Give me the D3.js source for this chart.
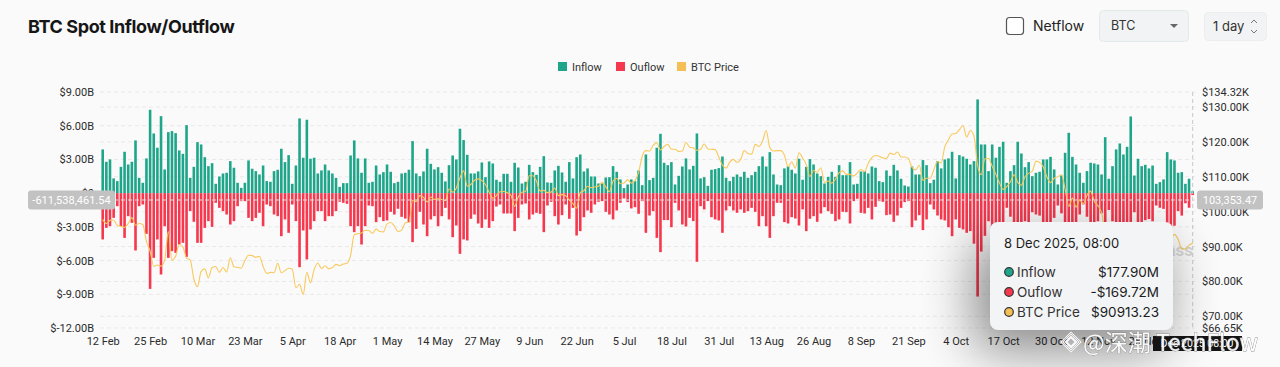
<!DOCTYPE html>
<html lang="en">
<head>
<meta charset="UTF-8">
<title>BTC Spot Inflow/Outflow</title>
<script src="https://d3js.org/d3.v7.min.js"></script>
<style>
  html, body { margin: 0; padding: 0; background: #fafafa; }
  svg { display: block; font-family: Roboto, "Noto Sans", sans-serif; }
</style>
</head>
<body>
<svg id="chart" width="1280" height="367"></svg>
<script>
// one bar per day, 12 Feb 2025 .. 8 Dec 2025
const days = d3.timeDay.range(new Date(2025, 1, 12), new Date(2025, 11, 9));

// spot inflow, $B
const inflow = [
  3.89,2.79,3.00,1.31,1.07,2.34,3.68,2.55,2.79,4.69, 1.36,0.92,3.09,7.42,5.31,4.04,6.85,2.11,5.43,5.52,
  5.34,3.80,3.50,6.05,1.36,2.34,4.54,4.33,3.20,2.40, 2.67,0.83,1.48,1.75,1.81,2.85,2.26,0.92,0.47,0.92,
  2.91,2.17,1.96,1.66,2.46,1.07,1.01,1.96,2.08,3.95, 2.76,3.38,0.83,2.46,6.65,3.15,6.53,3.06,3.15,1.75,
  2.02,2.55,2.02,1.75,1.36,0.56,0.89,0.89,3.35,4.69, 3.09,1.81,3.09,0.92,1.01,2.46,1.66,1.87,2.55,1.90,
  0.89,1.01,1.75,1.81,2.08,4.63,1.75,1.51,1.93,3.95, 2.61,2.11,2.31,1.81,1.04,2.49,3.35,3.00,5.73,4.72,
  3.41,1.75,1.75,1.93,2.73,1.42,2.82,2.64,1.19,1.01, 1.72,1.72,1.01,2.70,2.28,0.86,1.01,2.52,1.87,1.63,
  2.34,3.29,0.95,0.92,2.02,2.43,1.84,1.01,2.76,1.31, 3.20,3.44,1.93,2.20,1.48,1.48,0.86,0.86,1.39,1.42,
  2.40,1.90,1.22,0.45,0.77,1.22,1.07,2.02,0.71,3.44, 1.16,1.36,4.04,5.28,2.70,2.49,2.76,0.77,1.54,2.37,
  3.09,2.11,2.43,5.31,1.31,1.42,0.65,2.08,2.14,2.23, 3.26,1.36,1.07,1.45,1.66,1.45,1.90,1.36,1.60,1.90,
  2.40,3.26,2.37,3.65,1.66,0.77,0.71,2.20,2.40,2.08, 1.75,3.06,1.19,2.34,3.03,2.55,1.75,1.51,0.86,1.45,
  1.90,1.45,2.49,1.60,1.60,2.76,0.77,0.83,1.93,1.96, 1.75,2.37,2.26,1.07,0.98,2.02,1.54,2.52,2.02,1.28,
  0.68,0.59,2.37,1.66,1.66,2.94,2.49,0.89,1.19,2.85, 2.20,3.00,3.09,3.68,1.31,3.38,3.26,3.06,2.55,
  2.85,8.34,4.33,4.33,1.96,4.33,3.15,4.12,4.57,0.92, 1.96,2.49,4.57,3.53,2.31,2.76,1.51,1.81,1.90,3.00,
  3.00,3.23,2.11,0.77,1.57,3.59,5.37,3.23,2.55,1.81, 0.92,1.96,2.70,2.64,2.55,1.66,4.98,1.28,2.40,3.89,
  4.42,3.44,4.12,6.82,1.57,3.06,2.40,2.52,2.20,2.46, 0.83,0.98,1.22,3.65,3.00,2.91,1.81,1.87,0.83,1.28,
  0.1779
];

// spot outflow, $B (drawn below zero)
const outflow = [
  4.12,3.09,2.94,2.20,1.16,2.94,3.98,2.05,2.64,5.10, 1.16,1.01,3.62,8.52,5.76,4.12,7.24,2.94,5.76,5.16,
  5.31,4.57,4.42,5.67,1.60,2.55,4.42,4.42,3.09,2.49, 3.00,0.86,1.31,1.60,1.90,2.79,2.49,1.16,0.71,0.71,
  2.20,2.49,2.20,1.75,2.94,1.01,1.16,1.90,2.05,3.83, 2.34,3.53,1.01,2.49,6.59,3.32,5.90,3.23,2.49,1.60,
  1.60,2.49,2.05,2.05,1.60,0.77,0.86,0.95,2.94,3.47, 2.94,4.57,2.94,1.10,1.16,2.58,2.14,2.49,2.43,1.66,
  1.90,1.39,2.11,2.26,2.58,4.36,3.18,1.66,2.79,3.83, 2.34,2.05,2.94,2.05,1.31,2.34,3.92,2.88,5.40,4.12,
  4.21,2.28,1.90,2.70,3.09,2.34,3.09,2.49,1.19,1.01, 1.81,1.81,1.81,3.38,2.20,1.01,0.92,2.34,1.90,1.75,
  1.84,3.47,1.10,0.77,2.05,2.79,1.96,1.01,2.28,1.31, 3.77,3.38,2.14,1.54,1.75,1.01,0.77,0.71,1.66,1.90,
  2.34,1.54,0.86,0.47,0.80,1.36,1.25,1.84,0.71,3.53, 1.99,1.60,3.98,5.25,2.40,2.40,3.03,0.86,1.54,2.79,
  2.97,2.20,2.49,6.11,1.16,1.45,0.71,2.14,2.34,2.43, 3.53,1.54,1.16,1.54,1.75,1.45,1.75,1.60,1.31,1.66,
  2.94,2.05,2.94,3.98,2.05,0.86,0.86,2.58,2.70,2.14, 2.26,2.88,1.45,3.38,2.28,2.05,2.55,1.81,1.25,1.60,
  1.84,2.49,2.34,1.66,1.69,2.70,0.71,0.50,1.75,1.81, 1.31,2.34,1.22,0.71,0.77,1.96,1.90,2.55,1.99,1.31,
  0.80,0.71,3.03,2.43,1.96,3.29,2.34,1.01,1.45,1.99, 2.34,2.43,3.03,3.83,2.34,3.09,3.23,3.53,3.38,
  4.50,9.20,5.20,3.80,2.50,4.10,3.20,4.30,4.40,1.30, 2.10,2.60,4.60,3.40,2.50,2.90,1.70,1.90,2.00,3.10,
  2.90,3.40,2.20,1.10,1.80,3.50,5.50,3.10,2.60,1.90, 1.00,2.10,2.80,2.70,2.50,1.80,4.60,1.50,2.50,3.80,
  4.30,3.50,4.00,6.50,1.70,3.10,2.60,2.40,2.30,2.50, 1.10,1.30,1.40,3.60,3.30,2.90,1.60,2.00,0.90,1.30,
  0.1697
];

// BTC price, $K
const btcPrice = [
  97.8,96.6,97.5,97.6,96.1,95.8,95.5,96.6,98.3,96.1,96.6,96.3,91.5,88.7,84.3,84.7,84.4,
  86.1,94.3,86.1,87.2,90.6,89.9,86.7,86.2,80.7,78.5,82.9,83.6,81.0,84.0,84.3,82.6,84.0,82.7,86.8,84.2,84.0,83.8,86.0,87.5,87.4,86.9,87.2,84.3,82.3,82.6,82.5,
  85.2,82.5,83.1,83.8,83.5,78.2,79.2,76.3,82.6,79.6,83.4,85.3,83.7,84.5,83.6,84.0,84.9,84.5,85.0,85.2,87.5,93.4,93.7,93.9,94.7,94.6,93.8,95.0,94.3,94.2,
  96.5,96.9,95.9,94.3,94.7,96.8,97.0,103.2,102.9,104.6,104.1,102.8,104.2,103.5,103.7,103.5,103.2,106.5,105.6,106.8,109.7,111.7,107.3,107.8,109.0,109.4,108.9,107.8,105.6,103.9,104.6,
  105.7,105.8,105.4,104.7,101.5,104.3,105.6,105.8,110.3,110.3,108.7,105.9,106.1,105.5,105.6,106.8,104.6,104.9,104.6,103.3,102.3,101.0,105.5,106.0,107.3,106.9,107.1,107.3,108.4,107.1,
  105.7,108.8,109.6,108.0,108.2,109.2,108.2,108.9,111.3,115.9,117.5,117.4,119.0,119.8,117.7,118.7,119.3,117.9,117.9,117.3,117.4,119.9,118.5,118.3,117.6,117.9,119.4,118.0,117.9,117.8,115.7,
  113.3,112.5,114.2,115.0,114.1,115.0,117.5,116.7,116.5,119.3,118.7,120.2,123.3,118.4,117.4,117.5,117.5,116.2,112.9,114.3,112.5,116.9,115.4,113.5,110.1,111.8,111.3,112.6,108.4,108.8,108.2,
  109.3,111.2,111.7,110.7,110.7,110.2,111.1,112.1,111.5,113.9,115.5,116.1,115.9,115.4,115.3,116.8,116.4,117.1,115.7,115.7,115.3,112.7,112.0,113.3,109.0,109.6,109.6,112.1,114.4,114.0,
  118.6,120.6,122.3,122.4,123.5,124.7,121.4,123.3,121.7,113.2,110.6,115.2,115.3,113.0,110.7,108.2,106.4,107.2,108.6,110.6,108.4,107.6,110.0,111.0,111.6,114.5,114.1,112.9,110.0,108.3,109.6,
  110.0,110.6,106.5,101.5,103.9,101.3,103.4,102.3,104.7,105.9,103.0,101.7,99.7,94.4,95.5,94.2,92.2,92.9,91.5,86.6,85.1,84.7,86.8,88.3,87.3,90.5,91.3,90.9,90.8,90.4,
  86.3,91.3,93.5,92.1,89.4,89.3,90.4,90.91
];

const xTickLabels = ["12 Feb","25 Feb","10 Mar","23 Mar","5 Apr","18 Apr","1 May","14 May","27 May",
  "9 Jun","22 Jun","5 Jul","18 Jul","31 Jul","13 Aug","26 Aug","8 Sep","21 Sep","4 Oct","17 Oct",
  "30 Oct","12 Nov","25 Nov"];
const leftTicks = [-12, -9, -6, -3, 0, 3, 6, 9];
const rightTicks = [66.65, 70, 80, 90, 100, 110, 120, 130, 134.32];

const GREEN = "#1fa68a", RED = "#f5384e", GOLD = "#f9c95c";
const svg = d3.select("#chart");
const fmtKey = d3.timeFormat("%Y-%m-%d");
const keys = days.map(fmtKey);
const parseTick = d3.timeParse("%d %b %Y");

const x = d3.scalePoint().domain(keys).range([102.7, 1192.7]);
const yL = d3.scaleLinear().domain([-12, 9]).range([328, 92]);
const yR = d3.scaleLinear().domain([66.65, 134.32]).range([328, 92]);

// title
svg.append("text").attr("x", 28).attr("y", 33).text("BTC Spot Inflow/Outflow")
  .style("font-family", "Inter, sans-serif").style("font-weight", 700)
  .style("font-size", "18px").style("letter-spacing", "-0.4px").attr("fill", "#161616");

// controls (top right)
svg.append("rect").attr("x", 1006.5).attr("y", 17.5).attr("width", 17).attr("height", 17).attr("rx", 3)
  .attr("fill", "#fff").attr("stroke", "#555").attr("stroke-width", 1.2);
svg.append("text").attr("x", 1033).attr("y", 31).text("Netflow")
  .style("font-family", "Inter, sans-serif").style("font-size", "14px").attr("fill", "#222");
svg.append("rect").attr("x", 1099.5).attr("y", 10.5).attr("width", 89).attr("height", 31).attr("rx", 4)
  .attr("fill", "#f1f3f4").attr("stroke", "#e1eae9");
svg.append("text").attr("x", 1111).attr("y", 30).text("BTC")
  .style("font-family", "Inter, sans-serif").style("font-size", "12.5px").attr("fill", "#333");
svg.append("path").attr("d", "M1170,24 L1178,24 L1174,28 Z").attr("fill", "#666");
svg.append("rect").attr("x", 1204.5).attr("y", 12.5).attr("width", 62).attr("height", 28).attr("rx", 4)
  .attr("fill", "#f1f3f4").attr("stroke", "#eceeee");
svg.append("text").attr("x", 1213).attr("y", 31).text("1 day")
  .style("font-family", "Inter, sans-serif").style("font-size", "13px").attr("fill", "#333");
svg.append("path").attr("d", "M1251,23 L1254,20 L1257,23 M1251,30 L1254,33 L1257,30")
  .attr("fill", "none").attr("stroke", "#777").attr("stroke-width", 1);

// legend
const legend = [["Inflow", GREEN, 558], ["Ouflow", RED, 616], ["BTC Price", "#f5bf55", 677]];
legend.forEach(([name, c, lx]) => {
  svg.append("rect").attr("x", lx).attr("y", 62).attr("width", 9).attr("height", 9).attr("fill", c);
  svg.append("text").attr("x", lx + 14).attr("y", 71).text(name)
    .style("font-size", "11px").attr("fill", "#333");
});

// grid
const grid = svg.append("g");
leftTicks.map(yL).concat(rightTicks.slice(1, -1).map(yR)).forEach(gy => {
  grid.append("line").attr("x1", 100).attr("x2", 1195).attr("y1", gy).attr("y2", gy)
    .attr("stroke", "#e9e9e9").attr("stroke-dasharray", "4,3");
});

// chart watermark behind tooltip
svg.append("text").attr("x", 1193).attr("y", 256).attr("text-anchor", "end").text("coinglass")
  .style("font-size", "17px").style("font-weight", 600).attr("fill", "#d6d6d6");

// bars
const bw = 2.6;
svg.append("g").selectAll("rect").data(inflow).join("rect")
  .attr("x", (d, i) => x(keys[i]) - bw / 2).attr("width", bw)
  .attr("y", d => yL(d)).attr("height", d => yL(0) - yL(d)).attr("fill", GREEN);
svg.append("g").selectAll("rect").data(outflow).join("rect")
  .attr("x", (d, i) => x(keys[i]) - bw / 2).attr("width", bw)
  .attr("y", yL(0)).attr("height", d => yL(-d) - yL(0)).attr("fill", RED);

// price line
const line = d3.line().x((d, i) => x(keys[i])).y(d => yR(d)).curve(d3.curveMonotoneX);
svg.append("path").datum(btcPrice).attr("d", line)
  .attr("fill", "none").attr("stroke", GOLD).attr("stroke-width", 1.1);

// axes
const axL = svg.append("g").attr("transform", "translate(94,0)")
  .call(d3.axisLeft(yL).tickValues(leftTicks).tickSize(0).tickPadding(0)
    .tickFormat(v => v === 0 ? "$0" : `$${v.toFixed(2)}B`));
const axR = svg.append("g").attr("transform", "translate(1202,0)")
  .call(d3.axisRight(yR).tickValues(rightTicks).tickSize(0).tickPadding(0)
    .tickFormat(v => `$${v.toFixed(2)}K`));
const tickKeys = xTickLabels.map(s => fmtKey(parseTick(s + " 2025")));
const tickName = new Map(tickKeys.map((k, i) => [k, xTickLabels[i]]));
const axB = svg.append("g").attr("transform", "translate(0,337)")
  .call(d3.axisBottom(x).tickValues(tickKeys).tickSize(0).tickPadding(0).tickFormat(k => tickName.get(k)));
[axL, axR, axB].forEach(a => {
  a.select(".domain").remove();
  a.selectAll("text").style("font-family", "Roboto, sans-serif").style("font-size", "11px").attr("fill", "#2b2b2b");
});

// crosshair
const cx = x(keys[keys.length - 1]);
const cy = 200;
svg.append("line").attr("x1", 100).attr("x2", 1195).attr("y1", cy).attr("y2", cy)
  .attr("stroke", "#dcdcdc").attr("stroke-dasharray", "4,3");
svg.append("line").attr("x1", cx).attr("x2", cx).attr("y1", 92).attr("y2", 330)
  .attr("stroke", "#c8c8c8").attr("stroke-dasharray", "4,3");
function tag(tx, w, label) {
  svg.append("rect").attr("x", tx).attr("y", cy - 9.5).attr("width", w).attr("height", 19).attr("rx", 3)
    .attr("fill", "#c2c2c2");
  svg.append("text").attr("x", tx + w / 2).attr("y", cy + 4).attr("text-anchor", "middle").text(label)
    .style("font-size", "11px").attr("fill", "#fff");
}
tag(28, 87, "-611,538,461.54");
tag(1197, 66, "103,353.47");

// tooltip with soft shadow
const defs = svg.append("defs");
defs.append("filter").attr("id", "soft").attr("x", "-60%").attr("y", "-60%").attr("width", "220%").attr("height", "220%")
  .append("feGaussianBlur").attr("stdDeviation", 26);
svg.append("rect").attr("x", 975).attr("y", 240).attr("width", 190).attr("height", 110).attr("rx", 10)
  .attr("fill", "#000").attr("opacity", 0.45).attr("filter", "url(#soft)");
svg.append("rect").attr("x", 990).attr("y", 222).attr("width", 183).attr("height", 108).attr("rx", 8)
  .attr("fill", "#f3f4f6");
const tip = svg.append("g").style("font-family", "Inter, sans-serif");
tip.append("text").attr("x", 1004).attr("y", 248).text("8 Dec 2025, 08:00")
  .style("font-size", "13px").attr("fill", "#1c1c1c");
const rows = [["Inflow", "$177.90M", GREEN], ["Ouflow", "-$169.72M", RED], ["BTC Price", "$90913.23", "#f5bf55"]];
rows.forEach(([n, v, c], i) => {
  const ry = 272 + i * 20;
  tip.append("circle").attr("cx", 1009).attr("cy", ry).attr("r", 4.3).attr("fill", c)
    .attr("stroke", "#333").attr("stroke-width", 1.2);
  tip.append("text").attr("x", 1017).attr("y", ry + 5).text(n).style("font-size", "13.5px").attr("fill", "#333");
  tip.append("text").attr("x", 1159).attr("y", ry + 5).attr("text-anchor", "end").text(v)
    .style("font-size", "13.5px").attr("fill", "#1c1c1c");
});

// x crosshair label, partly under the image watermark
svg.append("rect").attr("x", 1153).attr("y", 336).attr("width", 89).attr("height", 15).attr("fill", "#141414");
svg.append("text").attr("x", 1197).attr("y", 347).attr("text-anchor", "middle").text("Dec 2025 08:00")
  .style("font-size", "10.5px").attr("fill", "#fff");

// image watermark
const wm = svg.append("g").attr("opacity", 0.92);
wm.append("path").attr("d", "M1071,333 L1080,342 L1071,351 L1062,342 Z M1071,337 L1076,342 L1071,347 L1066,342 Z")
  .attr("fill", "none").attr("stroke", "#fff").attr("stroke-width", 2.2);
wm.append("path").attr("d", "M1071,333 L1080,342 L1071,351 L1062,342 Z")
  .attr("fill", "none").attr("stroke", "#9a9a9a").attr("stroke-width", 0.6);
wm.append("text").attr("x", 1083).attr("y", 351).text("@深潮 TechFlow")
  .style("font-family", "'Noto Sans CJK SC', 'Noto Sans', sans-serif").style("font-size", "23px")
  .attr("fill", "#fff").attr("stroke", "#8a8a8a").attr("stroke-width", 0.8).style("paint-order", "stroke");
</script>
</body>
</html>
